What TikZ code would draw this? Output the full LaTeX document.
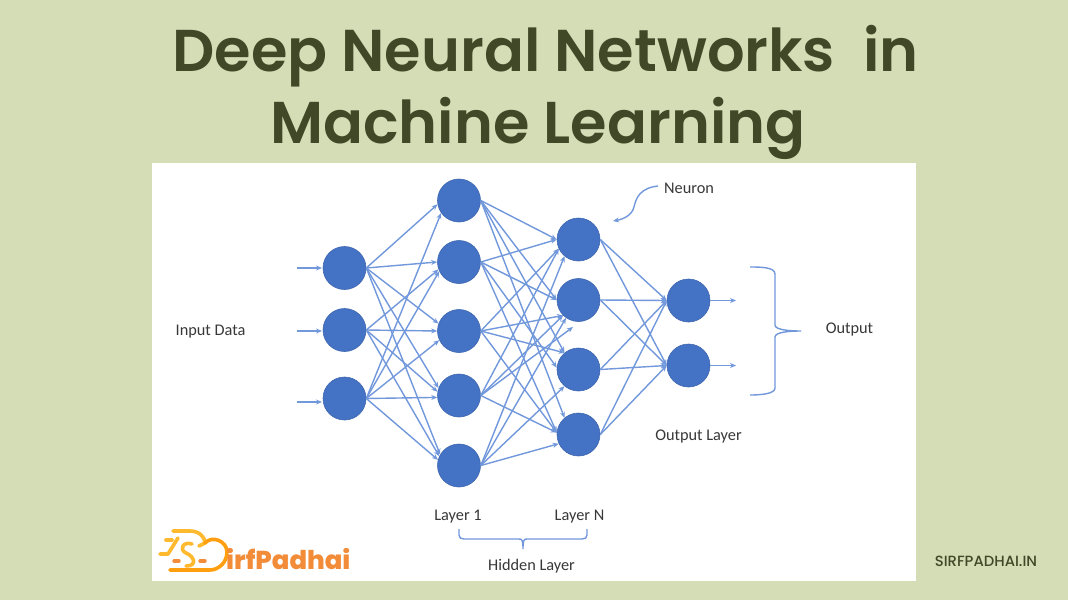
\documentclass[tikz,border=0pt]{standalone}
\usepackage{fontspec}
\setmainfont{Carlito}
\newfontfamily\titlefont{Poppins}[UprightFont=*-SemiBold]
\newfontfamily\markfont{Poppins}[UprightFont=*-Medium]
\usetikzlibrary{arrows.meta}
\definecolor{pagegreen}{HTML}{D5DDB7}
\definecolor{titleolive}{HTML}{414827}
\definecolor{nodeblue}{HTML}{4472C4}
\definecolor{nodeedge}{HTML}{3F66AE}
\definecolor{linkblue}{HTML}{7298DC}
\definecolor{logoorange}{HTML}{F28C38}
\definecolor{logoyellow}{HTML}{FFB92E}
\definecolor{logoamber}{HTML}{FF9F0F}
\tikzset{
  neuron/.style={circle, draw=nodeedge, fill=nodeblue, line width=0.6pt, minimum size=43pt, inner sep=0pt},
  link/.style={draw=linkblue, line width=1.4pt, -{Stealth[length=6pt,width=5pt]}},
  brace/.style={draw=linkblue, line width=1.4pt},
  caption/.style={text=black!78, font=\fontsize{16.3}{19}\selectfont, inner sep=0pt},
  heading/.style={text=titleolive, font=\titlefont\fontsize{59}{70}\selectfont, inner sep=0pt, anchor=base},
  logoline/.style={draw=logoyellow, line width=3.6pt, line cap=round, line join=round}
}
\begin{document}
\begin{tikzpicture}[x=1pt, y=-1pt]
\useasboundingbox (0,0) rectangle (1068,600);
\fill[pagegreen] (0,0) rectangle (1068,600);
\fill[white] (152,163) rectangle (916,581);

\node[heading] (Title 1) at (545.5,71) {Deep Neural Networks\ \ in};
\node[heading] (Title 2) at (538,143.5) {Machine Learning};

% input layer
\node[neuron] (i1) at (344.5,268) {};
\node[neuron] (i2) at (344.5,330) {};
\node[neuron] (i3) at (344.5,398.5) {};
% layer 1
\node[neuron] (h1) at (459,200.5) {};
\node[neuron] (h2) at (459,262) {};
\node[neuron] (h3) at (459,331) {};
\node[neuron] (h4) at (459,395.5) {};
\node[neuron] (h5) at (459,465.5) {};
% layer N
\node[neuron] (n1) at (578.5,239.5) {};
\node[neuron] (n2) at (578.5,300) {};
\node[neuron] (n3) at (578.5,369.5) {};
\node[neuron] (n4) at (578.5,434.5) {};
% output layer
\node[neuron] (o1) at (688.5,300.5) {};
\node[neuron] (o2) at (688.5,365.5) {};

\coordinate (in1) at (297,268);
\coordinate (in2) at (297,331);
\coordinate (in3) at (297,402);
\coordinate (out1) at (736,300.5);
\coordinate (out2) at (736,365.5);
\coordinate (stub) at (573,327);

\draw[link] (in1) -- (322,268);
\draw[link] (in2) -- (322,331);
\draw[link] (in3) -- (322,402);
\draw[link] (o1.east) -- (out1);
\draw[link] (o2.east) -- (out2);

\foreach \from/\to in {i1/h1.190, i1/h2.west, i1/h3.160, i1/h4.160, i1/h5.150,
                       i2/h2.200, i2/h3.west, i2/h4.170, i2/h5.155,
                       i3/h1.215, i3/h2.205, i3/h3.205, i3/h4.185, i3/h5.165}
  \draw[link] (\from.east) -- (\to);

\foreach \from/\to in {h1/n1.west, h1/n2.west, h1/n3.130, h1/n4.130,
                       h2/n1.west, h2/n2.west, h2/n3.175, h2/n4.175,
                       h3/n1.205, h3/n2.225, h3/n3.130, h3/n4.175,
                       h4/n1.205, h4/n2.225, h4/n4.175,
                       h5/n1.230, h5/n2.235, h5/n3.230, h5/n4.205}
  \draw[link] (\from.east) -- (\to);
\draw[link] (h4.east) -- (stub);

\foreach \from in {n1,n2,n3,n4}
  \foreach \to in {o1,o2}
    \draw[link] (\from.east) -- (\to.west);

% braces and neuron pointer
\coordinate (neuron tail) at (658,186);
\coordinate (neuron head) at (613,221);
\draw[link] (neuron tail) .. controls (640,188) and (636,198) .. (634,207) .. controls (632,215) and (624,219) .. (neuron head);
\draw[brace] (750,267) .. controls (760,267) and (775,267) .. (775,274) -- (775,325) .. controls (775,330) and (790,331) .. (801,331) .. controls (790,331) and (775,332) .. (775,337) -- (775,388) .. controls (775,394) and (760,395) .. (750,395);
\draw[brace] (459,529) -- (459,535) .. controls (459,538) and (461,539) .. (464,539) -- (519,539) .. controls (522,539) and (523,540) .. (523,549) .. controls (523,540) and (524,539) .. (527,539) -- (582,539) .. controls (585,539) and (587,538) .. (587,535) -- (587,529);

\node[caption] (Input Data) at (210.5,331.5) {Input Data};
\node[caption] (Neuron) at (689,188) {Neuron};
\node[caption] (Output) at (849.5,329.5) {Output};
\node[caption] (Output Layer) at (698.5,437) {Output Layer};
\node[caption] (Layer 1) at (458,516.5) {Layer 1};
\node[caption] (Layer N) at (579.5,516.5) {Layer N};
\node[caption] (Hidden Layer) at (531.5,566.5) {Hidden Layer};

\node[text=titleolive, font=\markfont\fontsize{14.8}{17}\selectfont, inner sep=0pt] (Site) at (986,561) {SIRFPADHAI.IN};

% logo
\draw[logoline] (173,531) -- (190,531) .. controls (198,531) and (205,536) .. (205,543) -- (199,546);
\draw[logoline, draw=logoamber] (205,543) .. controls (212,535) and (227,541) .. (227,552) .. controls (227,563) and (218,570) .. (210,570) -- (170,570);
\draw[logoline] (166,540) -- (172,540);
\draw[logoline] (160,554) -- (168,554) -- (178,538);
\draw[logoline] (192,544) .. controls (184,541) and (178,549) .. (186,553) .. controls (194,556) and (198,566) .. (186,566);
\draw[logoline, draw=logoorange, line width=3.4pt] (174,561) -- (179,561);
\draw[logoline, draw=logoorange, line width=3.4pt] (200,561) -- (205,561);
\node[text=logoorange, font=\markfont\bfseries\fontsize{25.9}{30}\selectfont, inner sep=0pt, anchor=base west] (Logo) at (226,569) {irfPadhai};
\end{tikzpicture}
\end{document}
